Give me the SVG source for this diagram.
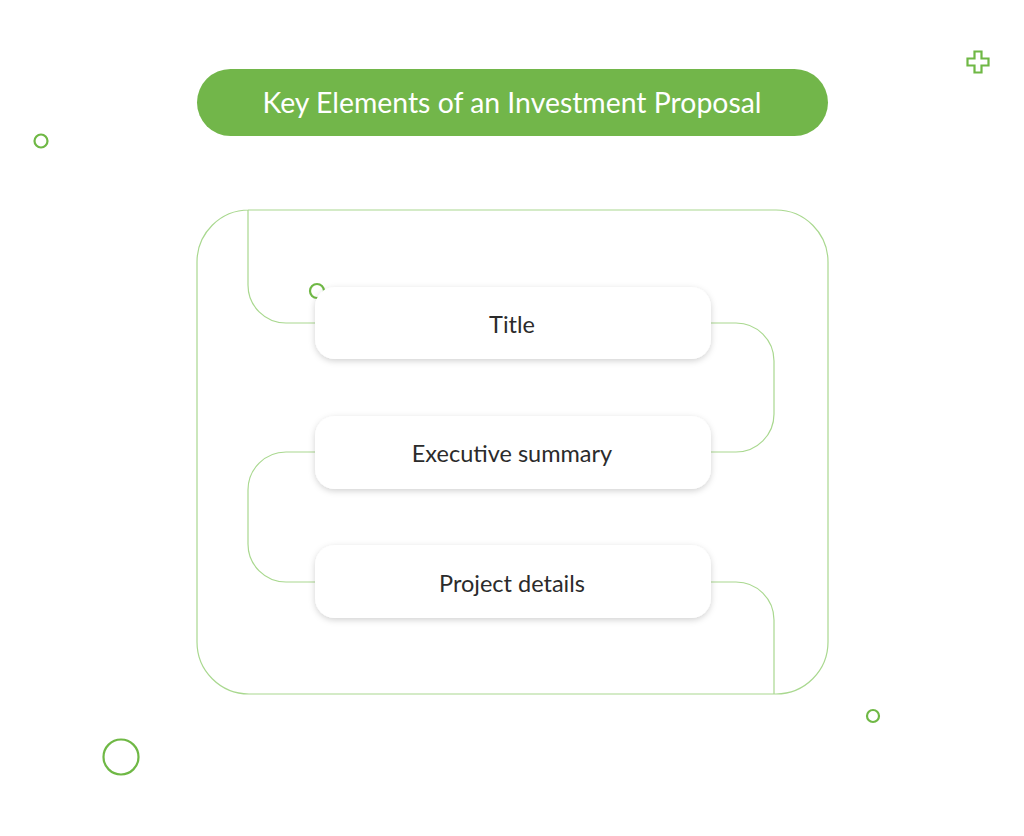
<svg xmlns="http://www.w3.org/2000/svg" width="1024" height="836" viewBox="0 0 1024 836">
<defs>
<style>
.conn{fill:none;stroke:#a9d88f;stroke-width:1.2}
.deco{fill:none;stroke:#6fb845;stroke-width:2.2}
.box{fill:#fff}
.lbl{font-family:Lato,"Liberation Sans",sans-serif;font-size:23.5px;fill:#2b2b2b;text-anchor:middle;dominant-baseline:central}
</style>
<filter id="sh" x="-10%" y="-30%" width="120%" height="160%">
<feDropShadow dx="0" dy="2" stdDeviation="3" flood-color="#000" flood-opacity="0.18"/>
</filter>
</defs>
<rect width="1024" height="836" fill="#fff"/>
<g id="header">
<rect x="197" y="69" width="631" height="67" rx="33.5" fill="#72b64a"/>
<text x="512" y="102" font-family="Lato,'Liberation Sans',sans-serif" font-size="28.4" fill="#fff" text-anchor="middle" dominant-baseline="central">Key Elements of an Investment Proposal</text>
</g>
<g id="connectors">
<path class="conn" d="M248 210 H776 A52 52 0 0 1 828 262 V642 A52 52 0 0 1 776 694 H249 A52 52 0 0 1 197 642 V262 A52 52 0 0 1 249 210"/>
<path class="conn" d="M248 210 V285 A38 38 0 0 0 286 323 H315"/>
<path class="conn" d="M711 323 H736 A38 38 0 0 1 774 361 V414 A38 38 0 0 1 736 452 H711"/>
<path class="conn" d="M315 452 H286 A38 38 0 0 0 248 490 V544 A38 38 0 0 0 286 582 H315"/>
<path class="conn" d="M711 582 H736 A38 38 0 0 1 774 620 V694"/>
</g>
<g id="decorations">
<circle class="deco" cx="41" cy="141" r="6.5"/>
<circle class="deco" cx="317" cy="291" r="7"/>
<circle class="deco" cx="873" cy="716" r="6"/>
<circle class="deco" cx="121" cy="757" r="17.5" stroke-width="3"/>
<path class="deco" stroke-width="1.8" d="M974.5 51.5 H981.5 V58.5 H988.5 V65.5 H981.5 V72.5 H974.5 V65.5 H967.5 V58.5 H974.5 Z"/>
</g>
<g id="node-title">
<rect class="box" x="315" y="287" width="396" height="72" rx="20" filter="url(#sh)"/>
<text class="lbl" x="512" y="324">Title</text>
</g>
<g id="node-exec">
<rect class="box" x="315" y="416" width="396" height="73" rx="20" filter="url(#sh)"/>
<text class="lbl" x="512" y="453">Executive summary</text>
</g>
<g id="node-project">
<rect class="box" x="315" y="545" width="396" height="73" rx="20" filter="url(#sh)"/>
<text class="lbl" x="512" y="583">Project details</text>
</g>
</svg>
